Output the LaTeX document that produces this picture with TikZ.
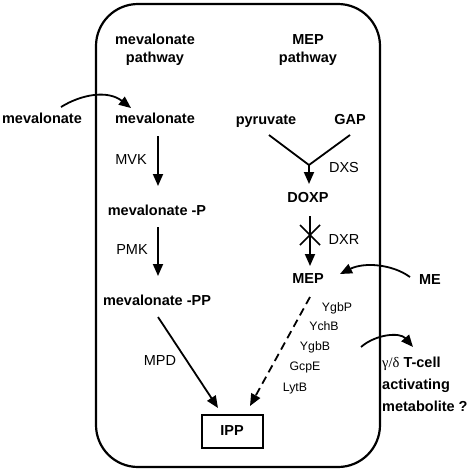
\documentclass[tikz,border=0pt]{standalone}
\usepackage{fontspec}
\setmainfont{Liberation Sans}
\newfontfamily\symfont{Liberation Serif}
\usetikzlibrary{arrows.meta}
\begin{document}
\begin{tikzpicture}[x=1pt,y=-1pt,
  met/.style={font=\fontsize{14.5}{18}\selectfont\bfseries, inner sep=0pt},
  enz/.style={font=\fontsize{14.5}{17}\selectfont, inner sep=0pt},
  sml/.style={font=\fontsize{12.3}{14}\selectfont, inner sep=0pt, anchor=base},
  arr/.style={line width=1.8pt, -{Triangle[length=12pt,width=10pt]}},
  plain/.style={line width=1.8pt}]
\useasboundingbox (0,0) rectangle (474,474);
\draw[line width=2.2pt, rounded corners=42pt] (96,4) rectangle (380,467);
% headings
\node[met, align=center] (mevpath) at (155,50) {mevalonate\\pathway};
\node[met, align=center] (meppath) at (308,50) {MEP\\pathway};
% metabolites
\node[met] (mevout) at (42,118) {mevalonate};
\node[met] (mevin) at (155,118) {mevalonate};
\node[met, anchor=base] (pyr) at (266,124) {pyruvate};
\node[met, anchor=base] (gap) at (350,124) {GAP};
\node[met] (doxp) at (308,198) {DOXP};
\node[met] (mep) at (308,279) {MEP};
\node[met] (me) at (430,280) {ME};
\node[met] (mevp) at (157,210) {mevalonate -P};
\node[met] (mevpp) at (157,300) {mevalonate -PP};
\node[met, draw, line width=2pt, minimum width=61pt, minimum height=33pt] (ipp) at (232,431) {IPP};
\node[met, align=left, anchor=west, font=\fontsize{14.5}{22}\selectfont\bfseries] (tcell) at (382,384) {{\mdseries\symfont γ/δ} T-cell\\activating\\metabolite ?};
% enzymes
\node[enz] (mvk) at (131,160) {MVK};
\node[enz] (pmk) at (132,250) {PMK};
\node[enz] (mpd) at (160,361) {MPD};
\node[enz] (dxs) at (344,168) {DXS};
\node[enz] (dxr) at (344,240) {DXR};
\node[sml] (ygbp) at (337,311) {YgbP};
\node[sml] (ychb) at (324,330) {YchB};
\node[sml] (ygbb) at (315,350) {YgbB};
\node[sml] (gcpe) at (305,370) {GcpE};
\node[sml] (lytb) at (295,391) {LytB};
% connector coordinates
\coordinate (a1) at (61,107);
\coordinate (a2) at (131,108);
\coordinate (m1) at (158,136);
\coordinate (m2) at (158,186);
\coordinate (p1) at (158,227);
\coordinate (p2) at (158,276);
\coordinate (d1) at (158,317);
\coordinate (d2) at (218,408);
\coordinate (v1) at (269,135);
\coordinate (v2) at (350,135);
\coordinate (vj) at (309,165);
\coordinate (vt) at (309,184);
\coordinate (x1) at (310,216);
\coordinate (x2) at (310,266);
\coordinate (e1) at (410,277);
\coordinate (e2) at (340,274);
\coordinate (q1) at (310,297);
\coordinate (q2) at (250,406);
\coordinate (t1) at (361,347);
\coordinate (t2) at (413,347);
% connectors
\draw[arr] (a1) .. controls (82,94) and (108,90) .. (a2);
\draw[arr] (m1) -- (m2);
\draw[arr] (p1) -- (p2);
\draw[arr] (d1) -- (d2);
\draw[plain] (v1) -- (vj) -- (v2);
\draw[arr] (vj) -- (vt);
\draw[arr] (x1) -- (x2);
\draw[line width=1.6pt] (300,225) -- (320,245) (320,225) -- (300,245);
\draw[arr] (e1) .. controls (392,264) and (364,262) .. (e2);
\draw[arr, dash pattern=on 8pt off 5pt] (q1) -- (q2);
\draw[arr] (t1) .. controls (376,334) and (400,332) .. (t2);
\end{tikzpicture}
\end{document}
